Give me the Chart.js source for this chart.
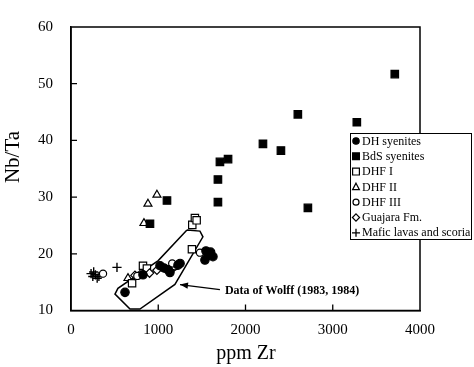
<!DOCTYPE html>
<html><head><meta charset="utf-8">
<script src="https://cdn.jsdelivr.net/npm/chart.js@4/dist/chart.umd.min.js"></script>
<style>html,body{margin:0;padding:0;background:#fff}#wrap{width:474px;height:367px;position:relative}</style>
</head><body><div id="wrap"><canvas id="c" width="474" height="367"></canvas></div>
<script>
// ---- data (ppm Zr, Nb/Ta) ----
const dhSyenites = [[619,13.2],[825,16.3],[1020,17.9],[1065,17.5],[1111,17.2],[1134,16.7],[1226,18.0],[1250,18.3],[1547,20.5],[1570,19.7],[1535,18.9],[1627,19.5],[1600,20.3]];
const bdsSyenites = [[905,25.3],[1100,29.4],[1684,29.1],[1684,33.1],[1707,36.2],[1800,36.7],[2200,39.4],[2406,38.2],[2600,44.6],[2715,28.1],[3276,43.2],[3711,51.7]];
const dhf1 = [[825,17.9],[870,17.4],[1386,20.8],[1390,25.1],[1420,26.3],[1440,25.9],[700,14.8]];
const dhf2 = [[836,25.4],[882,28.8],[985,30.4],[653,15.7]];
const dhf3 = [[367,16.5],[1478,20.2],[1191,17.8],[760,16.1],[1160,18.3]];
const guajara = [[733,16.2],[790,16.3],[985,17.1],[1170,17.5],[900,16.6]];
const maficLavas = [[527,17.6],[230,16.5],[250,16.0],[280,16.3],[300,15.7],[260,16.8],[320,16.0]];
const wolffField = [[1329,24.2],[1478,24.0],[1512,23.0],[1191,14.6],[790,10.25],[676,10.25],[504,12.9],[538,13.9],[1000,18.8],[1329,24.2]];
const wolffArrow = [[1707,13.7],[1249,14.57]];
const wolffLabelAt = [1764,13.4];
const xTicks = [0,1000,2000,3000,4000];
const yTicks = [10,20,30,40,50,60];
const seriesNames = ["DH syenites","BdS syenites","DHF I","DHF II","DHF III","Guajara Fm.","Mafic lavas and scoria"];

const pts = a => a.map(p => ({x:p[0], y:p[1]}));
const SERIF = "'Liberation Serif','DejaVu Serif',serif";

function sym(ctx, style, x, y, r, filled){
  ctx.save();
  ctx.lineWidth = 1.2; ctx.strokeStyle = '#000'; ctx.fillStyle = filled ? '#000' : '#fff';
  ctx.beginPath();
  if (style==='circle'){ ctx.arc(x,y,r,0,Math.PI*2); ctx.fill(); ctx.stroke(); }
  else if (style==='rect'){ ctx.rect(x-r,y-r,2*r,2*r); ctx.fill(); ctx.stroke(); }
  else if (style==='triangle'){ ctx.moveTo(x,y-r*1.1); ctx.lineTo(x+r,y+r*0.8); ctx.lineTo(x-r,y+r*0.8); ctx.closePath(); ctx.fill(); ctx.stroke(); }
  else if (style==='rectRot'){ ctx.moveTo(x,y-r); ctx.lineTo(x+r,y); ctx.lineTo(x,y+r); ctx.lineTo(x-r,y); ctx.closePath(); ctx.fill(); ctx.stroke(); }
  else if (style==='cross'){ ctx.lineWidth=1.3; ctx.moveTo(x-r,y); ctx.lineTo(x+r,y); ctx.moveTo(x,y-r); ctx.lineTo(x,y+r); ctx.stroke(); }
  ctx.restore();
}

const deco = {
  id:'deco',
  afterDraw(chart){
    const ctx = chart.ctx, a = chart.chartArea, xs = chart.scales.x, ys = chart.scales.y;
    ctx.save();
    ctx.strokeStyle='#000'; ctx.lineWidth=1.5;
    ctx.strokeRect(a.left, a.top, a.right-a.left, a.bottom-a.top);
    ctx.lineWidth=1.3;
    ctx.beginPath();
    xTicks.slice(1,-1).forEach(v=>{const px=xs.getPixelForValue(v); ctx.moveTo(px,a.bottom); ctx.lineTo(px,a.bottom-6);});
    yTicks.slice(1,-1).forEach(v=>{const py=ys.getPixelForValue(v); ctx.moveTo(a.left,py); ctx.lineTo(a.left+6,py);});
    ctx.stroke();
    // arrow head
    const hx=xs.getPixelForValue(wolffArrow[1][0]), hy=ys.getPixelForValue(wolffArrow[1][1]);
    const tx=xs.getPixelForValue(wolffArrow[0][0]), ty=ys.getPixelForValue(wolffArrow[0][1]);
    const ang=Math.atan2(hy-ty,hx-tx), L=8, W=3.2;
    ctx.fillStyle='#000'; ctx.beginPath();
    ctx.moveTo(hx,hy);
    ctx.lineTo(hx-L*Math.cos(ang)+W*Math.sin(ang), hy-L*Math.sin(ang)-W*Math.cos(ang));
    ctx.lineTo(hx-L*Math.cos(ang)-W*Math.sin(ang), hy-L*Math.sin(ang)+W*Math.cos(ang));
    ctx.closePath(); ctx.fill();
    // label
    ctx.font = "bold 12px "+SERIF; ctx.textBaseline='middle'; ctx.textAlign='left';
    ctx.fillText("Data of Wolff (1983, 1984)", xs.getPixelForValue(wolffLabelAt[0]), ys.getPixelForValue(wolffLabelAt[1]));
    // axis titles
    ctx.font = "20px "+SERIF; ctx.textAlign='center';
    ctx.fillText("ppm Zr", 246, 354);
    ctx.save(); ctx.translate(13,157); ctx.rotate(-Math.PI/2); ctx.font="21px "+SERIF; ctx.fillText("Nb/Ta",0,0); ctx.restore();
    // legend
    const lx=350, ly=133, lw=122, lh=107;
    ctx.fillStyle='#fff'; ctx.fillRect(lx,ly,lw,lh);
    ctx.lineWidth=1; ctx.strokeStyle='#000'; ctx.strokeRect(lx+0.5,ly+0.5,lw-1,lh-1);
    const styles=[['circle',true,3.2],['rect',true,3.4],['rect',false,3.4],['triangle',false,3.4],['circle',false,3.0],['rectRot',false,3.6],['cross',false,4]];
    ctx.font="12px "+SERIF; ctx.textAlign='left'; ctx.textBaseline='middle';
    seriesNames.forEach((n,i)=>{
      const y = ly+8+i*15.3;
      sym(ctx, styles[i][0], 356, y, styles[i][2], styles[i][1]);
      ctx.fillStyle='#000'; ctx.fillText(n, 362, y+0.5);
    });
    ctx.restore();
  }
};

const base = {showLine:false, borderColor:'#000', pointBorderColor:'#000', pointBorderWidth:1.2};
new Chart(document.getElementById('c'), {
  type:'scatter',
  data:{datasets:[
    {...base, label:seriesNames[0], data:pts(dhSyenites), pointStyle:'circle', pointRadius:4.2, pointBackgroundColor:'#000'},
    {...base, label:seriesNames[4], data:pts(dhf3), pointStyle:'circle', pointRadius:3.6, pointBackgroundColor:'#fff'},
    {...base, label:seriesNames[5], data:pts(guajara), pointStyle:'rectRot', pointRadius:4.2, pointBackgroundColor:'#fff'},
    {...base, label:seriesNames[1], data:pts(bdsSyenites), pointStyle:'rect', pointRadius:5.3, pointBackgroundColor:'#000'},
    {...base, label:seriesNames[2], data:pts(dhf1), pointStyle:'rect', pointRadius:5.2, pointBackgroundColor:'#fff'},
    {...base, label:seriesNames[3], data:pts(dhf2), pointStyle:'triangle', pointRadius:4.6, pointBackgroundColor:'#fff'},
    {...base, label:seriesNames[6], data:pts(maficLavas), pointStyle:'cross', pointRadius:4.6, pointBorderWidth:1.4},
    {label:'Wolff field', data:pts(wolffField), showLine:true, borderColor:'#000', borderWidth:1.5, pointRadius:0, fill:false, tension:0},
    {label:'Wolff arrow', data:pts(wolffArrow), showLine:true, borderColor:'#000', borderWidth:1.3, pointRadius:0, fill:false}
  ]},
  options:{
    responsive:false, animation:false, devicePixelRatio:1,
    layout:{padding:{top:9,right:54,left:0,bottom:0}},
    plugins:{legend:{display:false}, tooltip:{enabled:false}},
    scales:{
      x:{type:'linear', min:0, max:4000,
        afterBuildTicks:s=>{s.ticks=xTicks.map(v=>({value:v}));},
        afterFit:s=>{s.height=56.5;},
        ticks:{color:'#000', font:{family:SERIF,size:15}, padding:11, callback:v=>String(v)},
        grid:{drawOnChartArea:false, drawTicks:false},
        border:{display:true,color:'#000',width:1.5}},
      y:{type:'linear', min:10, max:60,
        afterBuildTicks:s=>{s.ticks=yTicks.map(v=>({value:v}));},
        afterFit:s=>{s.width=71;},
        ticks:{color:'#000', font:{family:SERIF,size:15}, padding:18, callback:v=>String(v)},
        grid:{drawOnChartArea:false, drawTicks:false},
        border:{display:true,color:'#000',width:1.5}}
    }
  },
  plugins:[deco]
});
</script></body></html>
